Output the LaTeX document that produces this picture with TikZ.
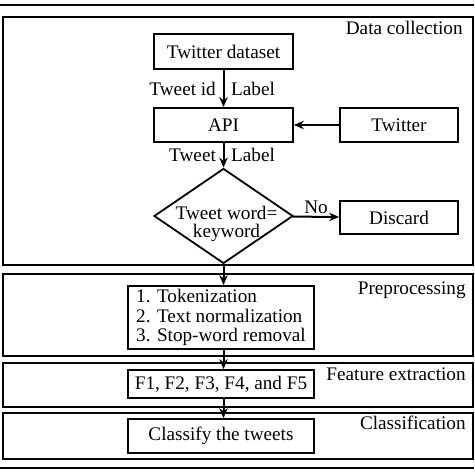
\documentclass[tikz,border=0pt]{standalone}
\usepackage{fontspec}
\setmainfont{Liberation Serif}
\usepackage{tikz}
\usetikzlibrary{shapes,positioning,arrows.meta}
\tikzset{box/.style={rectangle,draw,line width=0.9pt,inner sep=0pt,minimum width=69.5pt,minimum height=17pt}}
\tikzset{frame/.style={rectangle,draw,line width=1pt,inner sep=0pt,minimum width=235pt}}
\tikzset{dec/.style={diamond,draw,line width=0.9pt,inner sep=0pt,minimum width=69.5pt,minimum height=47.5pt}}
\tikzset{tag/.style={inner sep=0pt,anchor=base east}}

\begin{document}
\begin{tikzpicture}[>={Stealth[length=5pt,width=4.2pt]},x=0.5pt,y=-0.5pt,font=\fontsize{9.6}{9.7}\selectfont]
    \useasboundingbox (0,0) rectangle (474,474);
    \draw [line width=1pt] (0,5) -- (474,5);
    \draw [line width=1pt] (0,468) -- (474,468);

    \node[frame,minimum height=124pt] (dc) at (238,141) {};
    \node[frame,minimum height=41pt] (pp) at (238,315) {};
    \node[frame,minimum height=22pt] (fx) at (238,385) {};
    \node[frame,minimum height=23pt] (cl) at (238,436) {};
    \node[tag] (dct) at (463,35) {Data collection};
    \node[tag] (ppt) at (466,294) {Preprocessing};
    \node[tag] (fxt) at (466,380) {Feature extraction};
    \node[tag] (clt) at (466,429) {Classification};

    \node[box,minimum height=17.5pt] (ds) at (223.5,51.5) {Twitter dataset};
    \node[box] (api) at (223.5,125) {API};
    \node[box,minimum width=59pt] (tw) at (399,125) {Twitter};
    \node[dec,label={[align=center,font=\fontsize{9.6}{9}\selectfont,xshift=1.5pt,yshift=-4pt]center:Tweet word=\\keyword}] (kw) at (223.5,216) {};
    \node[box,minimum width=59pt,minimum height=16.5pt] (dis) at (399,217.5) {Discard};
    \node[box,minimum width=93pt,minimum height=31.5pt,align=left] (pre) at (221,317.5) {1. Tokenization\\2. Text normalization\\3. Stop-word removal};
    \node[box,minimum width=93pt,minimum height=14pt] (fe) at (221,384) {F1, F2, F3, F4, and F5};
    \node[box,minimum width=93pt] (cls) at (221,436) {Classify the tweets};

    \draw [->,line width=1pt] (ds) to node[left]{Tweet id} node[right]{Label} (api);
    \draw [->,line width=1pt] (tw) to (api);
    \draw [->,line width=1pt] (api) to node[left]{Tweet} node[right]{Label} (kw);
    \draw [->,line width=1pt] (kw) to node[above,inner sep=1pt]{No} (dis);
    \draw [->,line width=1pt] (kw.south) to (kw.south |- pre.north);
    \draw [->,line width=1pt] (kw.south |- pre.south) to (kw.south |- fe.north);
    \draw [->,line width=1pt] (kw.south |- fe.south) to (kw.south |- cls.north);
\end{tikzpicture}
\end{document}
